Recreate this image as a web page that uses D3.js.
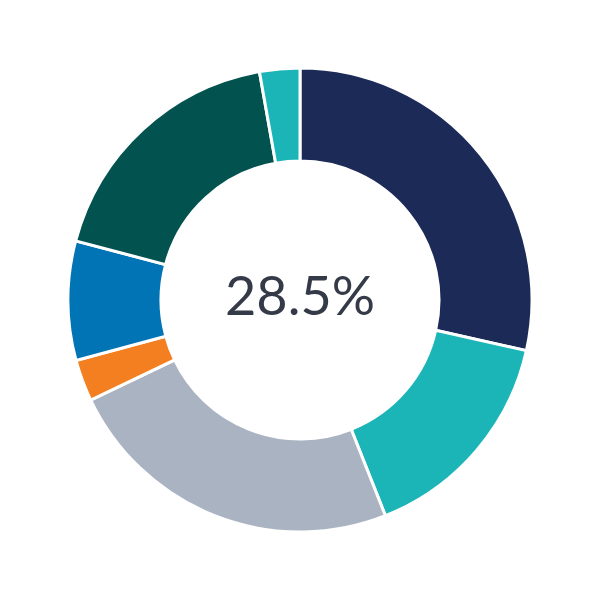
<!DOCTYPE html>
<html lang="en">
<head>
    <meta charset="UTF-8">
    <title>Donut</title>
    <script src="https://cdn.jsdelivr.net/npm/d3@7"></script>
    <style>
        body { margin: 0; background: #fff; }
    </style>
</head>
<body>
<script>
    // slice order runs clockwise from 12 o'clock
    var categories = ["A", "B", "C", "D", "E", "F", "G"];
    var values     = [28.5, 15.5, 23.9, 2.9, 8.3, 18.1, 2.8];
    var colors     = ["#1c2a58", "#1bb5b8", "#a9b3c1", "#f37f21", "#0074b4", "#02534f", "#1bb5b8"];
    var centerLabel = "28.5%";

    var width = 600, height = 600;
    var outerR = 232, innerR = 139;

    var svg = d3.select("body").append("svg")
        .attr("width", width)
        .attr("height", height);

    var g = svg.append("g")
        .attr("transform", "translate(300,300)");

    var pie = d3.pie().sort(null).value(function(d) { return d; });
    var arc = d3.arc().innerRadius(innerR).outerRadius(outerR);

    var color = d3.scaleOrdinal().domain(d3.range(categories.length)).range(colors);

    g.selectAll("path")
        .data(pie(values))
        .enter().append("path")
        .attr("d", arc)
        .attr("fill", function(d, i) { return color(i); })
        .attr("stroke", "#fff")
        .attr("stroke-width", 3)
        .attr("stroke-linejoin", "miter");

    // baseline sits at about y=315
    g.append("text")
        .attr("text-anchor", "middle")
        .attr("y", 15)
        .attr("font-family", "Lato, sans-serif")
        .attr("font-size", 54)
        .attr("fill", "#343a48")
        .text(centerLabel);
</script>
</body>
</html>
